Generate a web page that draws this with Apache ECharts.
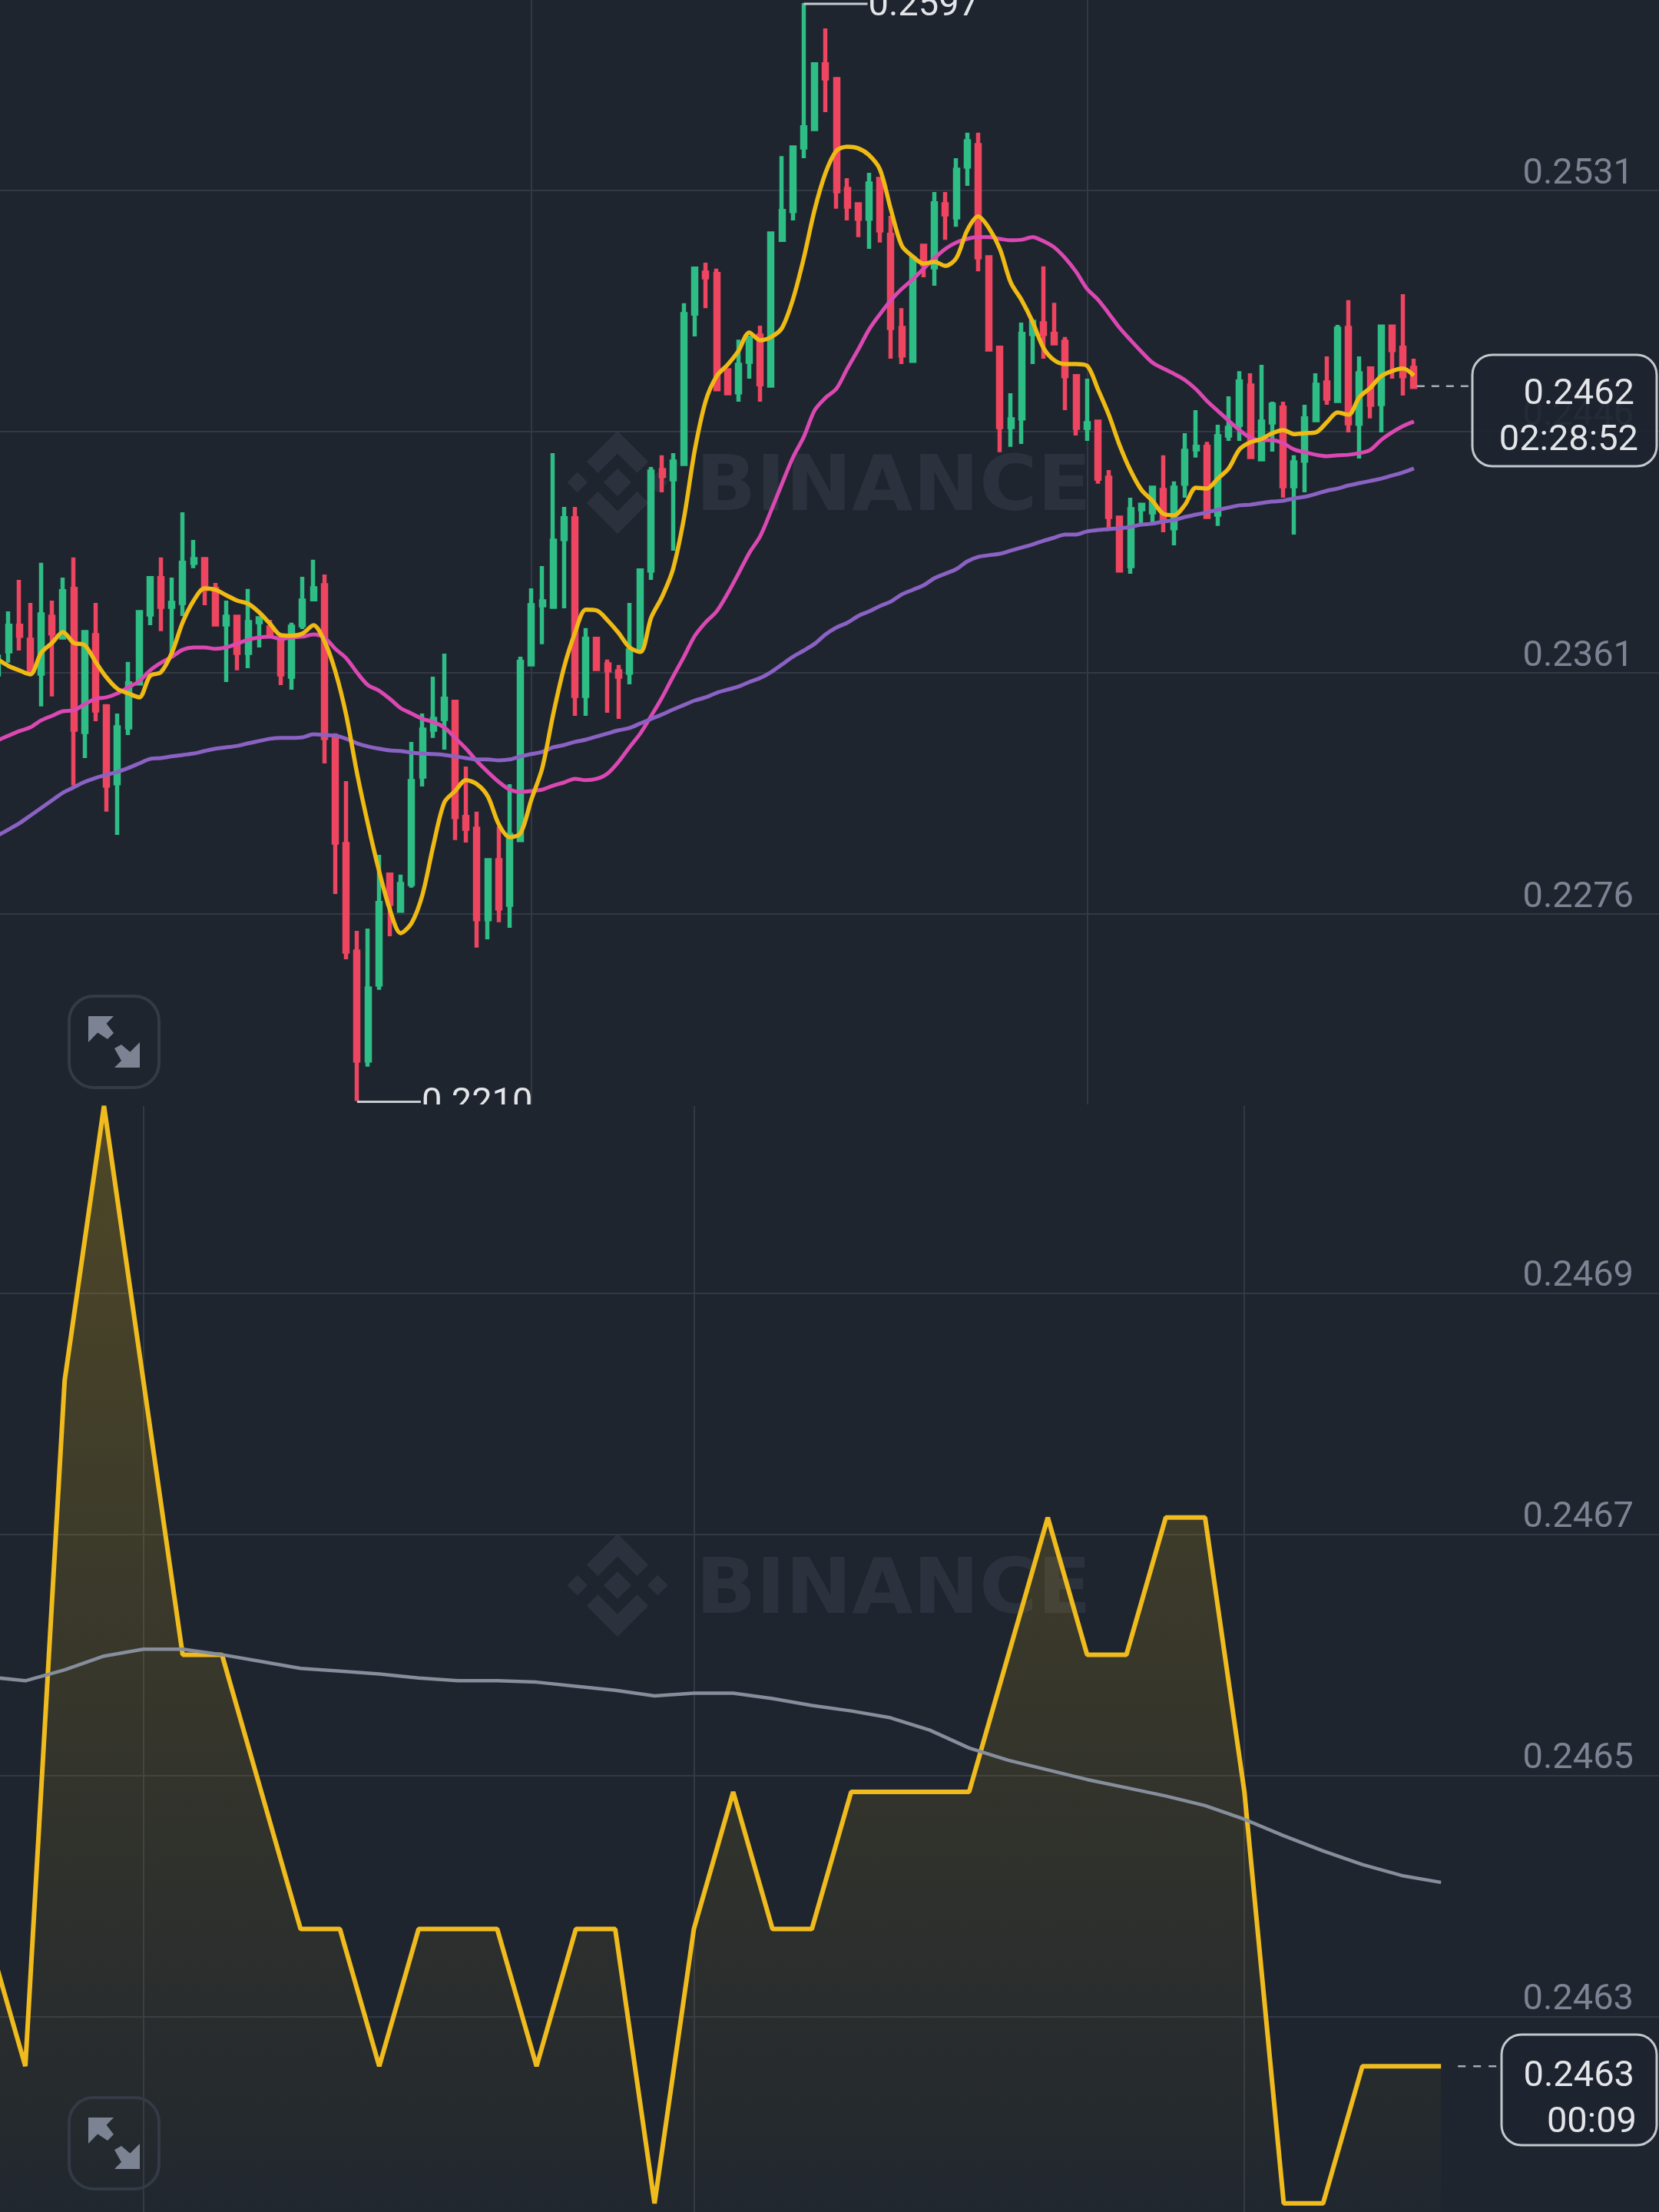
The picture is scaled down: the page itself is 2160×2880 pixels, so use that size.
<!DOCTYPE html>
<html>
<head>
<meta charset="utf-8">
<style>html,body{margin:0;padding:0;background:#1E252F}#c{width:2160px;height:2880px}</style>
<script src="https://cdn.jsdelivr.net/npm/echarts@6/dist/echarts.min.js"></script>
</head>
<body>
<div id="c"></div>
<script>
const candleOpen=[0.23604,0.23685,0.23775,0.23726,0.23607,0.23807,0.23734,0.23905,0.23401,0.23742,0.23491,0.23220,0.23417,0.23572,0.23815,0.23943,0.23842,0.23856,0.23997,0.24010,0.23905,0.23780,0.23807,0.23680,0.23788,0.23769,0.23726,0.23596,0.23777,0.23869,0.23918,0.23380,0.23006,0.22627,0.22243,0.22511,0.22898,0.22771,0.22865,0.23244,0.23409,0.23447,0.23507,0.23101,0.23060,0.22741,0.22949,0.22792,0.23020,0.23639,0.23848,0.23842,0.24081,0.24154,0.23528,0.23729,0.23639,0.23615,0.23610,0.23688,0.23970,0.24324,0.24292,0.24346,0.24876,0.25020,0.25015,0.24676,0.24598,0.24706,0.24798,0.24622,0.25136,0.25237,0.25461,0.25526,0.25754,0.25702,0.25315,0.25261,0.25210,0.25350,0.25153,0.24825,0.24709,0.25115,0.25039,0.25261,0.25215,0.25394,0.25469,0.25074,0.24755,0.24476,0.24506,0.24804,0.24841,0.24804,0.24776,0.24655,0.24473,0.24495,0.24297,0.24156,0.23986,0.24186,0.24175,0.24254,0.24119,0.24276,0.24397,0.24406,0.24167,0.24446,0.24484,0.24622,0.24362,0.24492,0.24544,0.24267,0.24357,0.24500,0.24633,0.24568,0.24825,0.24487,0.24682,0.24557,0.24830,0.24755,0.24684];
const candleClose=[0.23666,0.23775,0.23740,0.23618,0.23815,0.23748,0.23897,0.23409,0.23753,0.23477,0.23212,0.23417,0.23572,0.23823,0.23943,0.23842,0.23856,0.23997,0.24010,0.23905,0.23780,0.23807,0.23680,0.23788,0.23802,0.23742,0.23604,0.23772,0.23864,0.23907,0.23380,0.23011,0.22627,0.22243,0.22497,0.22798,0.22795,0.22865,0.23228,0.23409,0.23447,0.23518,0.23101,0.23060,0.22741,0.22949,0.22779,0.23038,0.23648,0.23848,0.23861,0.24075,0.24154,0.23528,0.23729,0.23623,0.23618,0.23596,0.23688,0.23970,0.24319,0.24303,0.24354,0.24874,0.25034,0.25004,0.24609,0.24595,0.24695,0.24787,0.24627,0.25158,0.25237,0.25461,0.25532,0.25754,0.25705,0.25307,0.25253,0.25210,0.25334,0.25169,0.24825,0.24728,0.25071,0.25050,0.25264,0.25226,0.25383,0.25483,0.25074,0.24749,0.24476,0.24503,0.24804,0.24847,0.24804,0.24771,0.24655,0.24473,0.24489,0.24294,0.24159,0.23970,0.24186,0.24202,0.24262,0.24154,0.24262,0.24392,0.24406,0.24159,0.24443,0.24473,0.24636,0.24370,0.24495,0.24554,0.24267,0.24351,0.24506,0.24625,0.24576,0.24822,0.24489,0.24665,0.24554,0.24830,0.24747,0.24655,0.24617];
const candleLow=[0.23599,0.23645,0.23688,0.23607,0.23491,0.23526,0.23734,0.23212,0.23309,0.23439,0.23120,0.23038,0.23390,0.23569,0.23777,0.23756,0.23661,0.23810,0.23978,0.23848,0.23775,0.23577,0.23618,0.23626,0.23699,0.23742,0.23566,0.23550,0.23764,0.23869,0.23290,0.22830,0.22600,0.22100,0.22221,0.22492,0.22681,0.22771,0.22852,0.23209,0.23380,0.23339,0.23020,0.23011,0.22641,0.22670,0.22730,0.22711,0.23020,0.23637,0.23710,0.23837,0.23837,0.23458,0.23458,0.23618,0.23469,0.23447,0.23569,0.23688,0.23937,0.24246,0.24040,0.24346,0.24795,0.24895,0.24606,0.24595,0.24565,0.24646,0.24565,0.24622,0.25136,0.25204,0.25423,0.25526,0.25586,0.25245,0.25204,0.25145,0.25104,0.25126,0.24717,0.24698,0.24709,0.25004,0.24974,0.25136,0.25182,0.25326,0.25025,0.24744,0.24387,0.24406,0.24416,0.24698,0.24717,0.24766,0.24535,0.24446,0.24427,0.24276,0.24121,0.23964,0.23959,0.24132,0.24140,0.24105,0.24059,0.24227,0.24368,0.24156,0.24127,0.24427,0.24427,0.24365,0.24357,0.24389,0.24227,0.24097,0.24246,0.24498,0.24554,0.24565,0.24457,0.24365,0.24506,0.24457,0.24646,0.24587,0.24617];
const candleHigh=[0.23688,0.23826,0.23937,0.23856,0.23997,0.23864,0.23945,0.24016,0.23756,0.23856,0.23499,0.23466,0.23648,0.23826,0.23945,0.24016,0.23945,0.24175,0.24078,0.24016,0.23926,0.23864,0.23807,0.23905,0.23802,0.23796,0.23740,0.23786,0.23948,0.24008,0.23956,0.23396,0.23228,0.22700,0.22708,0.22968,0.22898,0.22898,0.23366,0.23466,0.23596,0.23677,0.23507,0.23279,0.23120,0.22949,0.23068,0.23217,0.23666,0.23907,0.23986,0.24384,0.24194,0.24194,0.23767,0.23729,0.23656,0.23637,0.23856,0.23975,0.24335,0.24376,0.24384,0.24912,0.25034,0.25055,0.25034,0.24676,0.24784,0.24798,0.24833,0.25163,0.25431,0.25464,0.25970,0.25754,0.25881,0.25702,0.25353,0.25261,0.25372,0.25350,0.25220,0.24895,0.25071,0.25115,0.25304,0.25304,0.25423,0.25513,0.25513,0.25074,0.24755,0.24595,0.24844,0.24847,0.25042,0.24914,0.24793,0.24655,0.24646,0.24495,0.24324,0.24156,0.24227,0.24202,0.24265,0.24376,0.24284,0.24454,0.24535,0.24424,0.24484,0.24584,0.24673,0.24665,0.24695,0.24565,0.24565,0.24376,0.24554,0.24665,0.24725,0.24836,0.24923,0.24725,0.24684,0.24836,0.24836,0.24944,0.24717];
const maYellow=[0.23658,0.23634,0.23618,0.23604,0.23680,0.23715,0.23753,0.23715,0.23707,0.23648,0.23593,0.23553,0.23537,0.23523,0.23599,0.23612,0.23680,0.23788,0.23864,0.23907,0.23902,0.23883,0.23864,0.23853,0.23823,0.23783,0.23742,0.23740,0.23748,0.23777,0.23721,0.23615,0.23461,0.23255,0.23076,0.22914,0.22776,0.22692,0.22727,0.22827,0.23001,0.23152,0.23193,0.23231,0.23217,0.23174,0.23076,0.23030,0.23044,0.23163,0.23274,0.23463,0.23629,0.23750,0.23832,0.23829,0.23794,0.23750,0.23699,0.23683,0.23805,0.23878,0.23975,0.24154,0.24395,0.24568,0.24655,0.24695,0.24744,0.24809,0.24782,0.24793,0.24825,0.24925,0.25071,0.25242,0.25372,0.25450,0.25464,0.25458,0.25434,0.25383,0.25242,0.25115,0.25077,0.25052,0.25058,0.25044,0.25071,0.25169,0.25218,0.25177,0.25104,0.24985,0.24923,0.24847,0.24755,0.24711,0.24698,0.24698,0.24692,0.24609,0.24519,0.24411,0.24322,0.24254,0.24216,0.24170,0.24165,0.24202,0.24262,0.24259,0.24294,0.24330,0.24397,0.24422,0.24433,0.24454,0.24465,0.24451,0.24454,0.24457,0.24492,0.24527,0.24519,0.24581,0.24614,0.24655,0.24673,0.24682,0.24657];
const maPink=[0.23371,0.23388,0.23404,0.23417,0.23442,0.23458,0.23474,0.23477,0.23499,0.23518,0.23523,0.23537,0.23558,0.23580,0.23618,0.23645,0.23666,0.23691,0.23699,0.23699,0.23694,0.23699,0.23712,0.23726,0.23734,0.23737,0.23729,0.23734,0.23737,0.23745,0.23734,0.23694,0.23661,0.23610,0.23566,0.23547,0.23518,0.23485,0.23466,0.23447,0.23436,0.23417,0.23380,0.23342,0.23298,0.23260,0.23225,0.23198,0.23190,0.23193,0.23198,0.23212,0.23223,0.23236,0.23231,0.23236,0.23255,0.23296,0.23347,0.23396,0.23458,0.23523,0.23596,0.23666,0.23740,0.23788,0.23826,0.23888,0.23959,0.24032,0.24091,0.24181,0.24276,0.24368,0.24441,0.24535,0.24579,0.24611,0.24682,0.24749,0.24820,0.24874,0.24923,0.24963,0.24996,0.25034,0.25071,0.25104,0.25126,0.25139,0.25145,0.25145,0.25139,0.25134,0.25136,0.25145,0.25131,0.25109,0.25071,0.25023,0.24963,0.24925,0.24876,0.24825,0.24782,0.24741,0.24703,0.24682,0.24663,0.24641,0.24609,0.24568,0.24533,0.24498,0.24465,0.24438,0.24430,0.24430,0.24419,0.24397,0.24387,0.24378,0.24373,0.24376,0.24378,0.24384,0.24395,0.24430,0.24457,0.24479,0.24495];
const maPurple=[0.23036,0.23057,0.23079,0.23106,0.23133,0.23160,0.23187,0.23206,0.23225,0.23239,0.23250,0.23260,0.23274,0.23290,0.23306,0.23309,0.23315,0.23320,0.23325,0.23334,0.23342,0.23347,0.23352,0.23361,0.23369,0.23377,0.23380,0.23380,0.23382,0.23393,0.23390,0.23388,0.23377,0.23361,0.23350,0.23342,0.23336,0.23334,0.23328,0.23325,0.23323,0.23320,0.23315,0.23309,0.23304,0.23304,0.23301,0.23304,0.23315,0.23323,0.23331,0.23347,0.23355,0.23366,0.23374,0.23385,0.23396,0.23407,0.23415,0.23431,0.23447,0.23463,0.23480,0.23496,0.23512,0.23523,0.23539,0.23550,0.23561,0.23577,0.23591,0.23612,0.23639,0.23666,0.23688,0.23712,0.23745,0.23769,0.23786,0.23810,0.23826,0.23845,0.23861,0.23886,0.23902,0.23918,0.23943,0.23959,0.23975,0.24002,0.24018,0.24024,0.24029,0.24040,0.24051,0.24062,0.24075,0.24086,0.24097,0.24097,0.24108,0.24113,0.24116,0.24119,0.24124,0.24132,0.24135,0.24143,0.24148,0.24159,0.24167,0.24175,0.24184,0.24192,0.24200,0.24202,0.24208,0.24213,0.24216,0.24224,0.24230,0.24240,0.24251,0.24259,0.24270,0.24278,0.24286,0.24294,0.24305,0.24316,0.24330];
const upperTicks=[0.2531,0.2446,0.2361,0.2276];
const extremeIndex=[74,33];
const extremeValue=[0.2597,0.2210];
const extremeLabel=['0.2597','0.2210'];
const lastPriceUpper=0.2462;
const countdownUpper='02:28:52';
const linePrice=[0.2464,0.2463,0.2468,0.2470,0.2468,0.2466,0.2466,0.2465,0.2464,0.2464,0.2463,0.2464,0.2464,0.2464,0.2463,0.2464,0.2464,0.2462,0.2464,0.2465,0.2464,0.2464,0.2465,0.2465,0.2465,0.2465,0.2466,0.2467,0.2466,0.2466,0.2467,0.2467,0.2465,0.2462,0.2462,0.2463,0.2463,0.2463];
const lineAverage=[0.246584,0.246581,0.246589,0.246599,0.246604,0.246604,0.246600,0.246595,0.246590,0.246588,0.246586,0.246583,0.246581,0.246581,0.246580,0.246577,0.246574,0.246570,0.246572,0.246572,0.246568,0.246563,0.246559,0.246554,0.246545,0.246532,0.246523,0.246516,0.246509,0.246503,0.246497,0.246490,0.246480,0.246468,0.246457,0.246447,0.246439,0.246434];
const lowerTicks=[0.24686338,0.24668757,0.24651176,0.24633595];
const lastPriceLower=0.2463;
const countdownLower='00:09';

const BG='#1E252F',GRID='#323844',UP='#2EBD85',DOWN='#EE4560',TICK='#7C8494',WHITE='#E3E5E9',FONT='Roboto';
const bands=153, lowerSlots=44;
const ohlc=candleOpen.map((o,i)=>[o,candleClose[i],candleLow[i],candleHigh[i]]);
const pad=(a,n)=>a.concat(new Array(Math.max(0,n-a.length)).fill('-'));
const upperCats=Array.from({length:bands},(_,i)=>String(i));
const lowerCats=Array.from({length:lowerSlots},(_,i)=>String(i));

function logo(cx,cy){
  const S=67,c='#2C323D';
  const poly=(pts)=>({type:'polygon',z:0,silent:true,shape:{points:pts.map(p=>[cx+p[0]*S,cy+p[1]*S])},style:{fill:c}});
  const diamond=(dx,r)=>poly([[dx-r,0],[dx,-r],[dx+r,0],[dx,r]]);
  return [
    poly([[0,-1],[.6,-.4],[.38,-.18],[0,-.56],[-.38,-.18],[-.6,-.4]]),
    poly([[0,1],[.6,.4],[.38,.18],[0,.56],[-.38,.18],[-.6,.4]]),
    diamond(0,.27),diamond(-.78,.2),diamond(.78,.2),
    {type:'text',z:0,silent:true,x:906,y:cy+10,scaleX:1.03,style:{text:'BINANCE',fill:c,font:'bold 100px "DejaVu Sans"',textAlign:'left',textVerticalAlign:'middle'}}
  ];
}
function icon(dy){
  const p=(pts)=>({type:'polygon',z:10,silent:true,shape:{points:pts.map(q=>[q[0],q[1]+dy])},style:{fill:TICK}});
  return [
    {type:'rect',z:10,silent:true,shape:{x:90,y:1297+dy,width:117,height:119,r:32},style:{fill:'transparent',stroke:'#343A46',lineWidth:4}},
    p([[115,1323],[148,1323],[115,1357]]),
    p([[138,1332],[148,1345],[140,1353],[125,1343]]),
    p([[182,1357],[182,1390],[149,1390]]),
    p([[149,1365],[158,1360],[172,1372],[158,1381]])
  ];
}
function box(x,y,w,h,l1,l2,y1,y2,r1,r2){
  const t=(s,r,yy)=>({type:'text',z:12,silent:true,x:r,y:yy,style:{text:s,fill:WHITE,font:'47px '+FONT,textAlign:'right',textVerticalAlign:'middle'}});
  return [
    {type:'rect',z:11,silent:true,shape:{x,y,width:w,height:h,r:26},style:{fill:'rgba(30,37,47,0.93)',stroke:'#C3C7CD',lineWidth:3}},
    t(l1,r1,y1),t(l2,r2,y2)
  ];
}
const gridLine={silent:true,z:1,symbol:'none',precision:8,label:{show:false},lineStyle:{color:GRID,width:2,type:'solid'},animation:false};

const chart=echarts.init(document.getElementById('c'),null,{renderer:'canvas'});
chart.setOption({
  animation:false,
  backgroundColor:BG,
  grid:[
    {left:-10.27,width:2170.27,top:0,height:1438,outerBoundsMode:'none'},
    {left:-18.2,width:2201.6,top:1440,height:1440,outerBoundsMode:'none'}
  ],
  xAxis:[
    {gridIndex:0,type:'category',data:upperCats,boundaryGap:true,axisLine:{show:false},axisTick:{show:false},axisLabel:{show:false},splitLine:{show:false}},
    {gridIndex:1,type:'category',data:lowerCats,boundaryGap:false,axisLine:{show:false},axisTick:{show:false},axisLabel:{show:false},
      splitLine:{show:true,interval:(i)=>i%14===4,lineStyle:{color:GRID,width:2}}}
  ],
  yAxis:[
    {gridIndex:0,type:'value',position:'right',min:0.22088,max:0.25981,scale:true,axisLine:{show:false},axisTick:{show:false},splitLine:{show:false},
      axisLabel:{inside:true,margin:33,customValues:upperTicks,formatter:v=>v.toFixed(4),color:TICK,fontFamily:FONT,fontSize:47,lineHeight:42,verticalAlign:'bottom'}},
    {gridIndex:1,type:'value',position:'right',min:0.24619373,max:0.247,scale:true,axisLine:{show:false},axisTick:{show:false},splitLine:{show:false},
      axisLabel:{inside:true,margin:56.4,customValues:lowerTicks,formatter:v=>v.toFixed(4),color:TICK,fontFamily:FONT,fontSize:47,lineHeight:44,verticalAlign:'bottom'}}
  ],
  series:[
    {type:'candlestick',name:'Price',xAxisIndex:0,yAxisIndex:0,data:ohlc,barWidth:4.5,z:2,
      itemStyle:{color:UP,color0:DOWN,borderColor:UP,borderColor0:DOWN,borderWidth:5.5},
      markLine:Object.assign({},gridLine,{data:[{xAxis:49},{xAxis:100}].concat(upperTicks.map(v=>({yAxis:v})))})},
    {type:'line',name:'MA7',xAxisIndex:0,yAxisIndex:0,data:maYellow,smooth:0.3,showSymbol:false,symbol:'none',z:5,lineStyle:{color:'#EFBA14',width:5.5}},
    {type:'line',name:'MA25',xAxisIndex:0,yAxisIndex:0,data:maPink,smooth:0.3,showSymbol:false,symbol:'none',z:4,lineStyle:{color:'#DB48B2',width:5}},
    {type:'line',name:'MA99',xAxisIndex:0,yAxisIndex:0,data:maPurple,smooth:0.3,showSymbol:false,symbol:'none',z:4,lineStyle:{color:'#8B62C4',width:5}},
    {type:'custom',name:'Extremes',xAxisIndex:0,yAxisIndex:0,clip:true,z:6,encode:{x:0,y:1},
      data:extremeIndex.map((x,i)=>[x,extremeValue[i]]),
      renderItem:(params,api)=>{
        const p=api.coord([api.value(0),api.value(1)]);
        return {type:'group',children:[
          {type:'line',shape:{x1:p[0],y1:p[1]+1,x2:p[0]+83,y2:p[1]+1},style:{stroke:'#C8CCD2',lineWidth:3}},
          {type:'text',style:{x:p[0]+84,y:p[1]+4,text:extremeLabel[params.dataIndex],fill:WHITE,font:'47px '+FONT,textAlign:'left',textVerticalAlign:'middle'}}
        ]};
      }},
    {type:'custom',name:'LastUpper',xAxisIndex:0,yAxisIndex:0,clip:false,z:6,encode:{x:0,y:1},
      data:[[130,lastPriceUpper]],
      renderItem:(params,api)=>{
        const p=api.coord([api.value(0),api.value(1)]);
        return {type:'line',shape:{x1:p[0]+4,y1:p[1],x2:1917,y2:p[1]},style:{stroke:'#A6ACB5',lineWidth:2.5,lineDash:[10,9]}};
      }},
    {type:'line',name:'Price line',xAxisIndex:1,yAxisIndex:1,data:pad(linePrice,lowerSlots),showSymbol:false,symbol:'none',z:3,
      lineStyle:{color:'#EFBB1E',width:6},
      areaStyle:{origin:'start',color:new echarts.graphic.LinearGradient(0,0,0,1,[{offset:0,color:'rgba(240,185,11,0.33)'},{offset:1,color:'rgba(240,185,11,0.02)'}])},
      markLine:Object.assign({},gridLine,{data:lowerTicks.map(v=>({yAxis:v}))})},
    {type:'line',name:'Average',xAxisIndex:1,yAxisIndex:1,data:pad(lineAverage,lowerSlots),showSymbol:false,symbol:'none',z:4,lineStyle:{color:'#868E9C',width:4.5}},
    {type:'custom',name:'LastLower',xAxisIndex:1,yAxisIndex:1,clip:false,z:6,encode:{x:0,y:1},
      data:[[37,lastPriceLower]],
      renderItem:(params,api)=>{
        const p=api.coord([api.value(0),api.value(1)]);
        return {type:'line',shape:{x1:p[0]+22,y1:p[1],x2:1955,y2:p[1]},style:{stroke:'#A6ACB5',lineWidth:2.5,lineDash:[10,10]}};
      }}
  ],
  graphic:{elements:[].concat(
    logo(804,628),logo(804,2064),
    icon(0),icon(1434),
    box(1917,462,240,145,lastPriceUpper.toFixed(4),countdownUpper,514,574,2128,2133),
    box(1955,2649,202,144,lastPriceLower.toFixed(4),countdownLower,2704,2764,2128,2131)
  )}
});
</script>
</body>
</html>
